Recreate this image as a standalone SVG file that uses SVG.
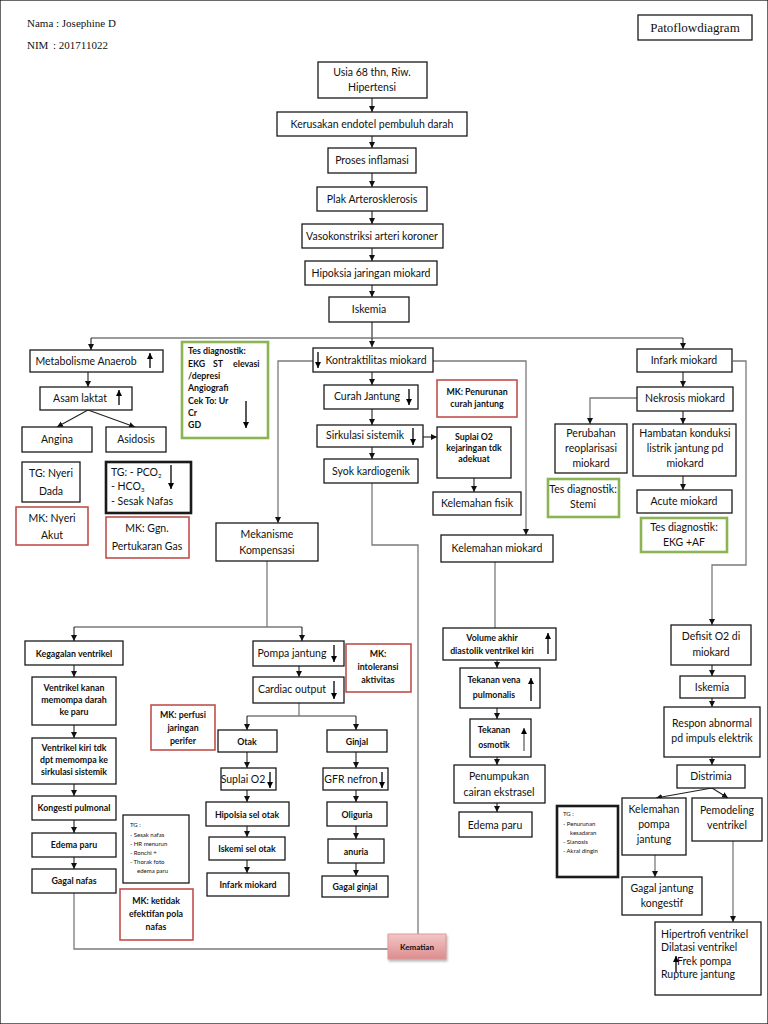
<svg xmlns="http://www.w3.org/2000/svg" width="768" height="1024" viewBox="0 0 768 1024">
<defs>
<marker id="ah" markerUnits="userSpaceOnUse" markerWidth="7" markerHeight="7" refX="6" refY="3.5" orient="auto"><path d="M0,0.5 L6,3.5 L0,6.5 z" fill="#111"/></marker>
<marker id="ai" markerUnits="userSpaceOnUse" markerWidth="7" markerHeight="7" refX="6" refY="3.5" orient="auto"><path d="M0,0.5 L6,3.5 L0,6.5 z" fill="#000"/></marker>
<linearGradient id="pk" x1="0" y1="0" x2="0" y2="1"><stop offset="0" stop-color="#f3c6c6"/><stop offset="1" stop-color="#dc8d8f"/></linearGradient>
<filter id="sh" x="-20%" y="-20%" width="150%" height="160%"><feDropShadow dx="1" dy="2" stdDeviation="1.2" flood-color="#888" flood-opacity="0.6"/></filter>
</defs>
<style>
rect{fill:#fff;stroke:#1a1a1a;stroke-width:1.3}
rect.gr{stroke:#8cb454;stroke-width:2.6}
rect.rd{stroke:#c0504d;stroke-width:1.6}
rect.tk{stroke-width:2.6}
text{font-family:Lato,"Open Sans","Liberation Sans",sans-serif;font-size:10.5px;text-anchor:middle;fill:#111}
text.s{font-size:8.8px;font-weight:bold}
text.xs{font-size:6px;text-anchor:start}
text.l{text-anchor:start}
text.hd{font-family:"Liberation Serif",serif;font-size:11px;text-anchor:start}
.c line,.c polyline,.c path{stroke:#222;stroke-width:1.1;fill:none}
.c .g{stroke:#7a7a7a;stroke-width:1.3}
.ar{stroke:#000;stroke-width:1.3;marker-end:url(#ai)}
</style>
<rect width="768" height="1024" fill="#fff" stroke="none"/>

<g id="header">
<text class="hd" x="27" y="27">Nama : Josephine D</text>
<text class="hd" x="27" y="49">NIM</text>
<text class="hd" x="53" y="49">: 201711022</text>
</g>
<g id="title"><rect x="638" y="15" width="114" height="25"/><text x="695" y="32" style="font-family:'Liberation Serif',serif;font-size:13px">Patoflowdiagram</text></g>

<g id="connectors" class="c">
<line x1="372" y1="98" x2="372" y2="112" marker-end="url(#ah)"/>
<line x1="372" y1="136" x2="372" y2="148" marker-end="url(#ah)"/>
<line x1="372" y1="173" x2="372" y2="187" marker-end="url(#ah)"/>
<line x1="372" y1="211" x2="372" y2="224" marker-end="url(#ah)"/>
<line x1="372" y1="248" x2="372" y2="261" marker-end="url(#ah)"/>
<line x1="372" y1="285" x2="372" y2="297" marker-end="url(#ah)"/>
<line x1="372" y1="322" x2="372" y2="338"/>
<line x1="91" y1="338" x2="683" y2="338" class="g"/>
<line x1="91" y1="338" x2="91" y2="350" marker-end="url(#ah)"/>
<line x1="372" y1="338" x2="372" y2="347" marker-end="url(#ah)"/>
<line x1="683" y1="338" x2="683" y2="349" marker-end="url(#ah)"/>
<line x1="88" y1="372" x2="88" y2="387" marker-end="url(#ah)"/>
<line x1="88" y1="410" x2="57" y2="427" marker-end="url(#ah)"/>
<line x1="88" y1="410" x2="135" y2="427" marker-end="url(#ah)"/>
<line x1="372" y1="372" x2="372" y2="385" marker-end="url(#ah)"/>
<line x1="372" y1="409" x2="372" y2="425" marker-end="url(#ah)"/>
<line x1="372" y1="447" x2="372" y2="459" marker-end="url(#ah)"/>
<line x1="423" y1="437" x2="437" y2="437" marker-end="url(#ah)"/>
<line x1="474" y1="478" x2="474" y2="492" marker-end="url(#ah)"/>
<polyline points="313,361 278,361 278,523" class="g" marker-end="url(#ah)"/>
<polyline points="433,361 526,361 526,535" class="g" marker-end="url(#ah)"/>
<polyline points="372,483 372,545 418,545 418,934" class="g"/>
<polyline points="74,893 74,949 388,949" class="g"/>
<line x1="683" y1="372" x2="683" y2="387" marker-end="url(#ah)"/>
<polyline points="637,398 590,398 590,424" class="g" marker-end="url(#ah)"/>
<line x1="683" y1="411" x2="683" y2="424" marker-end="url(#ah)"/>
<line x1="683" y1="476" x2="683" y2="490" marker-end="url(#ah)"/>
<polyline points="733,361 746,361 746,565 712,565 712,625" class="g" marker-end="url(#ah)"/>
<line x1="495" y1="562" x2="495" y2="628" class="g"/>
<line x1="497" y1="660" x2="497" y2="668" marker-end="url(#ah)"/>
<line x1="497" y1="708" x2="497" y2="719" marker-end="url(#ah)"/>
<line x1="497" y1="757" x2="497" y2="765" marker-end="url(#ah)"/>
<line x1="497" y1="803" x2="497" y2="812" marker-end="url(#ah)"/>
<polyline points="267,561 267,627" class="g"/>
<line x1="74" y1="627" x2="302" y2="627" class="g"/>
<line x1="74" y1="627" x2="74" y2="641" marker-end="url(#ah)"/>
<line x1="302" y1="627" x2="302" y2="641" marker-end="url(#ah)"/>
<line x1="74" y1="665" x2="74" y2="677" marker-end="url(#ah)"/>
<line x1="74" y1="725" x2="74" y2="738" marker-end="url(#ah)"/>
<line x1="74" y1="784" x2="74" y2="796" marker-end="url(#ah)"/>
<line x1="74" y1="820" x2="74" y2="833" marker-end="url(#ah)"/>
<line x1="74" y1="857" x2="74" y2="869" marker-end="url(#ah)"/>
<line x1="299" y1="666" x2="299" y2="677" marker-end="url(#ah)"/>
<line x1="299" y1="703" x2="299" y2="716" class="g"/>
<line x1="247" y1="716" x2="356" y2="716" class="g"/>
<line x1="247" y1="716" x2="247" y2="730" marker-end="url(#ah)"/>
<line x1="356" y1="716" x2="356" y2="730" marker-end="url(#ah)"/>
<line x1="247" y1="752" x2="247" y2="768" marker-end="url(#ah)"/>
<line x1="247" y1="790" x2="247" y2="802" marker-end="url(#ah)"/>
<line x1="247" y1="826" x2="247" y2="837" marker-end="url(#ah)"/>
<line x1="247" y1="860" x2="247" y2="873" marker-end="url(#ah)"/>
<line x1="356" y1="752" x2="356" y2="768" marker-end="url(#ah)"/>
<line x1="356" y1="790" x2="356" y2="802" marker-end="url(#ah)"/>
<line x1="356" y1="826" x2="356" y2="839" marker-end="url(#ah)"/>
<line x1="356" y1="863" x2="356" y2="876" marker-end="url(#ah)"/>
<line x1="712" y1="665" x2="712" y2="676" marker-end="url(#ah)"/>
<line x1="712" y1="698" x2="712" y2="707" marker-end="url(#ah)"/>
<line x1="712" y1="757" x2="712" y2="765" marker-end="url(#ah)"/>
<line x1="712" y1="788" x2="656" y2="798" marker-end="url(#ah)"/>
<line x1="712" y1="788" x2="728" y2="798" marker-end="url(#ah)"/>
<line x1="655" y1="855" x2="655" y2="877" class="g" marker-end="url(#ah)"/>
<line x1="733" y1="841" x2="733" y2="922" class="g" marker-end="url(#ah)"/>
</g>

<g id="n-usia"><rect x="318" y="62" width="109" height="36"/><text x="372" y="76">Usia 68 thn, Riw.</text><text x="372" y="91">Hipertensi</text></g>
<g id="n-kerusakan"><rect x="277" y="112" width="190" height="24"/><text x="372" y="128">Kerusakan endotel pembuluh darah</text></g>
<g id="n-inflamasi"><rect x="328" y="148" width="88" height="25"/><text x="372" y="164">Proses inflamasi</text></g>
<g id="n-plak"><rect x="317" y="187" width="110" height="24"/><text x="372" y="203">Plak Arterosklerosis</text></g>
<g id="n-vaso"><rect x="302" y="224" width="141" height="24"/><text x="372" y="240">Vasokonstriksi arteri koroner</text></g>
<g id="n-hipoksia"><rect x="305" y="261" width="132" height="24"/><text x="371" y="277">Hipoksia jaringan miokard</text></g>
<g id="n-iskemia"><rect x="329" y="297" width="80" height="25"/><text x="369" y="313">Iskemia</text></g>

<g id="n-metabolisme"><rect x="30" y="350" width="133" height="22"/><text x="86" y="365">Metabolisme Anaerob</text><line class="ar" x1="150" y1="368" x2="150" y2="353"/></g>
<g id="n-asam"><rect x="40" y="387" width="92" height="23"/><text x="80" y="402">Asam laktat</text><line class="ar" x1="119" y1="405" x2="119" y2="390"/></g>
<g id="n-angina"><rect x="22" y="427" width="70" height="25"/><text x="57" y="443">Angina</text></g>
<g id="n-asidosis"><rect x="106" y="427" width="60" height="25"/><text x="136" y="443">Asidosis</text></g>
<g id="n-tg-nyeri"><rect x="22" y="462" width="58" height="40"/><text x="51" y="477">TG: Nyeri</text><text x="51" y="495">Dada</text></g>
<g id="n-tg-pco2"><rect class="tk" x="106" y="462" width="85" height="51"/><text class="l" x="111" y="476">TG: - PCO<tspan font-size="6" dy="2">2</tspan></text><text class="l" x="111" y="490">- HCO<tspan font-size="6" dy="2">3</tspan></text><text class="l" x="111" y="505">- Sesak Nafas</text><line class="ar" x1="171" y1="465" x2="171" y2="489"/></g>
<g id="n-mk-nyeri"><rect class="rd" x="16" y="507" width="72" height="38"/><text x="52" y="522">MK:  Nyeri</text><text x="52" y="539">Akut</text></g>
<g id="n-mk-gas"><rect class="rd" x="106" y="517" width="83" height="41"/><text x="147" y="532">MK:  Ggn.</text><text x="147" y="550">Pertukaran Gas</text></g>

<g id="n-tes1"><rect class="gr" x="182" y="342" width="86" height="96"/>
<text class="s l" x="188" y="354">Tes diagnostik:</text>
<text class="s l" x="188" y="367">EKG</text><text class="s l" x="213" y="367">ST</text><text class="s l" x="233" y="367">elevasi</text>
<text class="s l" x="188" y="379">/depresi</text>
<text class="s l" x="188" y="391">Angiografi</text>
<text class="s l" x="188" y="404">Cek To: Ur</text>
<text class="s l" x="188" y="416">Cr</text>
<text class="s l" x="188" y="428">GD</text>
<line class="ar" x1="246" y1="401" x2="246" y2="428"/></g>

<g id="n-kontraktilitas"><rect x="313" y="348" width="120" height="24"/><text x="376" y="364">Kontraktilitas miokard</text><line class="ar" x1="318" y1="352" x2="318" y2="368"/></g>
<g id="n-curah"><rect x="324" y="385" width="94" height="24"/><text x="367" y="400">Curah Jantung</text><line class="ar" x1="409" y1="389" x2="409" y2="405"/></g>
<g id="n-sirkulasi"><rect x="317" y="425" width="106" height="22"/><text x="365" y="439">Sirkulasi sistemik</text><line class="ar" x1="413" y1="428" x2="413" y2="445"/></g>
<g id="n-syok"><rect x="324" y="459" width="94" height="24"/><text x="371" y="475">Syok kardiogenik</text></g>
<g id="n-suplai-jar"><rect x="437" y="427" width="74" height="51"/><text class="s" x="474" y="440">Suplai O2</text><text class="s" x="474" y="451">kejaringan tdk</text><text class="s" x="474" y="462">adekuat</text></g>
<g id="n-kelemahan-fisik"><rect x="433" y="492" width="88" height="23"/><text x="477" y="507">Kelemahan fisik</text></g>
<g id="n-mk-curah"><rect class="rd" x="437" y="380" width="80" height="37"/><text class="s" x="477" y="395">MK: Penurunan</text><text class="s" x="477" y="407">curah jantung</text></g>
<g id="n-mekanisme"><rect x="216" y="523" width="102" height="38"/><text x="267" y="538">Mekanisme</text><text x="267" y="554">Kompensasi</text></g>
<g id="n-kelemahan-miokard"><rect x="441" y="535" width="112" height="27"/><text x="497" y="552">Kelemahan miokard</text></g>

<g id="n-infark"><rect x="637" y="349" width="95" height="23"/><text x="684" y="364">Infark miokard</text></g>
<g id="n-nekrosis"><rect x="637" y="387" width="96" height="24"/><text x="685" y="402">Nekrosis miokard</text></g>
<g id="n-perubahan"><rect x="555" y="424" width="72" height="49"/><text x="591" y="437">Perubahan</text><text x="591" y="452">reoplarisasi</text><text x="591" y="467">miokard</text></g>
<g id="n-hambatan"><rect x="633" y="424" width="103" height="52"/><text x="685" y="437">Hambatan konduksi</text><text x="685" y="452">listrik jantung pd</text><text x="685" y="467">miokard</text></g>
<g id="n-tes-stemi"><rect class="gr" x="548" y="479" width="71" height="38"/><text x="583" y="493">Tes diagnostik:</text><text x="583" y="508">Stemi</text></g>
<g id="n-acute"><rect x="637" y="490" width="95" height="23"/><text x="684" y="505">Acute miokard</text></g>
<g id="n-tes-ekg"><rect class="gr" x="641" y="518" width="86" height="34"/><text x="684" y="531">Tes diagnostik:</text><text x="684" y="546">EKG +AF</text></g>

<g id="n-volume"><rect x="443" y="628" width="113" height="32"/><text class="s" x="492" y="641">Volume akhir</text><text class="s" x="492" y="654">diastolik ventrikel kiri</text><line class="ar" x1="548" y1="654" x2="548" y2="633"/></g>
<g id="n-tekanan-vena"><rect x="460" y="668" width="80" height="40"/><text class="s" x="494" y="683">Tekanan vena</text><text class="s" x="494" y="698">pulmonalis</text><line class="ar" x1="531" y1="701" x2="531" y2="678"/></g>
<g id="n-tekanan-osm"><rect x="470" y="719" width="61" height="38"/><text class="s" x="494" y="733">Tekanan</text><text class="s" x="494" y="748">osmotik</text><line class="ar" x1="524" y1="751" x2="524" y2="728" style="stroke-width:0.8"/></g>
<g id="n-penumpukan"><rect x="454" y="765" width="91" height="38"/><text x="499" y="780">Penumpukan</text><text x="499" y="796">cairan ekstrasel</text></g>
<g id="n-edema-r"><rect x="459" y="812" width="73" height="25"/><text x="495" y="829">Edema paru</text></g>

<g id="n-kegagalan"><rect x="25" y="641" width="98" height="24"/><text class="s" x="74" y="657">Kegagalan ventrikel</text></g>
<g id="n-vkanan"><rect x="32" y="677" width="84" height="48"/><text class="s" x="74" y="691">Ventrikel kanan</text><text class="s" x="74" y="703">memompa darah</text><text class="s" x="74" y="715">ke paru</text></g>
<g id="n-vkiri"><rect x="32" y="738" width="84" height="46"/><text class="s" x="74" y="751">Ventrikel kiri tdk</text><text class="s" x="74" y="763">dpt memompa ke</text><text class="s" x="74" y="775">sirkulasi sistemik</text></g>
<g id="n-kongesti"><rect x="32" y="796" width="84" height="24"/><text class="s" x="74" y="811">Kongesti pulmonal</text></g>
<g id="n-edema-l"><rect x="32" y="833" width="84" height="24"/><text class="s" x="74" y="848">Edema paru</text></g>
<g id="n-gagal-nafas"><rect x="32" y="869" width="84" height="24"/><text class="s" x="74" y="884">Gagal nafas</text></g>
<g id="n-tg-nafas"><rect x="123" y="815" width="66" height="68"/><text class="xs" x="130" y="827">TG :</text><text class="xs" x="130" y="837">-  Sesak nafas</text><text class="xs" x="130" y="846">-  HR menurun</text><text class="xs" x="130" y="855">-  Ronchi +</text><text class="xs" x="130" y="864">-  Thorak foto</text><text class="xs" x="137" y="873">edema paru</text></g>
<g id="n-mk-pola"><rect class="rd" x="120" y="889" width="73" height="51"/><text class="s" x="156" y="904">MK: ketidak</text><text class="s" x="156" y="917">efektifan pola</text><text class="s" x="156" y="930">nafas</text></g>
<g id="n-mk-perfusi"><rect class="rd" x="151" y="705" width="64" height="45"/><text class="s" x="183" y="718">MK: perfusi</text><text class="s" x="183" y="731">jaringan</text><text class="s" x="183" y="744">perifer</text></g>

<g id="n-pompa"><rect x="253" y="641" width="91" height="25"/><text x="292" y="657">Pompa  jantung</text><line class="ar" x1="334" y1="645" x2="334" y2="662"/></g>
<g id="n-mk-intoleransi"><rect class="rd" x="346" y="644" width="65" height="48"/><text class="s" x="378" y="657">MK:</text><text class="s" x="378" y="670">intoleransi</text><text class="s" x="378" y="683">aktivitas</text></g>
<g id="n-cardiac"><rect x="253" y="677" width="91" height="26"/><text x="292" y="693">Cardiac output</text><line class="ar" x1="334" y1="681" x2="334" y2="699"/></g>
<g id="n-otak"><rect x="218" y="730" width="59" height="22"/><text class="s" x="247" y="745">Otak</text></g>
<g id="n-suplai-otak"><rect x="221" y="768" width="55" height="22"/><text x="243" y="783">Suplai O2</text><line class="ar" x1="270" y1="772" x2="270" y2="788"/></g>
<g id="n-hipolsia"><rect x="206" y="802" width="83" height="24"/><text class="s" x="247" y="818">Hipolsia sel otak</text></g>
<g id="n-iskemi-otak"><rect x="209" y="837" width="76" height="23"/><text class="s" x="247" y="852">Iskemi sel otak</text></g>
<g id="n-infark-otak"><rect x="207" y="873" width="82" height="23"/><text class="s" x="248" y="888">Infark miokard</text></g>
<g id="n-ginjal"><rect x="327" y="730" width="60" height="22"/><text class="s" x="357" y="745">Ginjal</text></g>
<g id="n-gfr"><rect x="323" y="768" width="65" height="22"/><text x="351" y="783">GFR nefron</text><line class="ar" x1="382" y1="772" x2="382" y2="788"/></g>
<g id="n-oliguria"><rect x="327" y="802" width="60" height="24"/><text class="s" x="357" y="818">Oliguria</text></g>
<g id="n-anuria"><rect x="328" y="839" width="56" height="24"/><text class="s" x="356" y="855">anuria</text></g>
<g id="n-gagal-ginjal"><rect x="322" y="876" width="66" height="21"/><text class="s" x="355" y="890">Gagal ginjal</text></g>

<g id="n-kematian"><rect x="388" y="934" width="58" height="25" style="fill:url(#pk);stroke:#d99;stroke-width:1" filter="url(#sh)"/><text class="s" x="417" y="950" style="font-size:8px">Kematian</text></g>

<g id="n-defisit"><rect x="671" y="625" width="80" height="40"/><text x="711" y="640">Defisit O2 di</text><text x="711" y="656">miokard</text></g>
<g id="n-iskemia2"><rect x="680" y="676" width="65" height="22"/><text x="712" y="691">Iskemia</text></g>
<g id="n-respon"><rect x="664" y="707" width="96" height="50"/><text x="712" y="727">Respon abnormal</text><text x="712" y="742">pd impuls elektrik</text></g>
<g id="n-distrimia"><rect x="677" y="765" width="68" height="23"/><text x="711" y="780">Distrimia</text></g>
<g id="n-kelemahan-pompa"><rect x="622" y="798" width="64" height="57"/><text x="654" y="813">Kelemahan</text><text x="654" y="828">pompa</text><text x="654" y="843">jantung</text></g>
<g id="n-pemodeling"><rect x="692" y="798" width="70" height="43"/><text x="727" y="814">Pemodeling</text><text x="727" y="829">ventrikel</text></g>
<g id="n-tg-kesadaran"><rect class="tk" x="557" y="806" width="61" height="71"/><text class="xs" x="563" y="816">TG :</text><text class="xs" x="563" y="826">-  Penurunan</text><text class="xs" x="570" y="835">kesadaran</text><text class="xs" x="563" y="844">-  Sianosis</text><text class="xs" x="563" y="853">-  Akral dingin</text></g>
<g id="n-gagal-jantung"><rect x="622" y="877" width="80" height="38"/><text x="662" y="892">Gagal jantung</text><text x="662" y="907">kongestif</text></g>
<g id="n-hipertrofi"><rect x="655" y="922" width="106" height="73"/><text class="l" x="661" y="938">Hipertrofi ventrikel</text><text class="l" x="661" y="951">Dilatasi ventrikel</text><text class="l" x="677" y="965">Frek pompa</text><text class="l" x="661" y="978">Rupture jantung</text><line class="ar" x1="676" y1="972" x2="676" y2="956"/></g>
</svg>
